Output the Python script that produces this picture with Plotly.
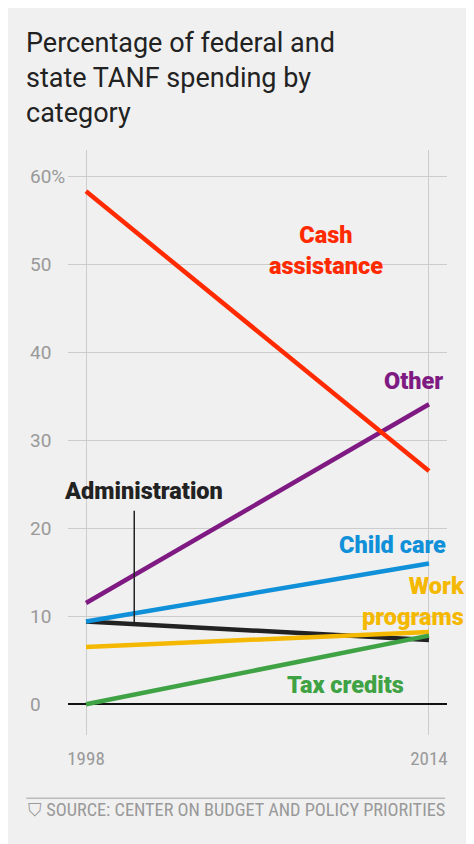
import plotly.graph_objects as go

years = [1998, 2014]
cash = [58.3, 26.5]
other = [11.5, 34.1]
child_care = [9.4, 16.0]
admin = [9.4, 7.3]
work = [6.5, 8.2]
tax = [0.0, 7.8]

series = [
    ("Administration", admin, "#222222"),
    ("Work programs", work, "#f5b800"),
    ("Tax credits", tax, "#3fa244"),
    ("Child care", child_care, "#0f90d8"),
    ("Other", other, "#7e1a82"),
    ("Cash assistance", cash, "#ff2a00"),
]

ytick_vals = [0, 10, 20, 30, 40, 50, 60]
ytick_text = ["0", "10", "20", "30", "40", "50", "60%"]

fig = go.Figure()
for name, vals, color in series:
    fig.add_trace(go.Scatter(x=years, y=vals, mode="lines", name=name,
                             line=dict(color=color, width=4.5)))

labels = [
    ("Cash<br>assistance", 2009.2, 51.6, "#ff2a00", "center"),
    ("Other", 2013.3, 36.7, "#7e1a82", "center"),
    ("Child care", 2012.3, 18.1, "#0f90d8", "center"),
    ("Work<br>programs", 2013.3, 11.7, "#f5b800", "right"),
    ("Tax credits", 2010.1, 2.2, "#3fa244", "center"),
    ("Administration", 2000.7, 24.2, "#222222", "center"),
]
for text, x, y, color, al in labels:
    fig.add_annotation(x=x, y=y, text=text, showarrow=False, align=al,
                       font=dict(family="Roboto", size=23.5, color=color, weight=900))

# leader line for Administration
fig.add_shape(type="line", x0=2000.25, x1=2000.25, y0=22.0, y1=9.2,
              line=dict(color="#222222", width=1.5))

for v, t in zip(ytick_vals, ytick_text):
    fig.add_annotation(xref="paper", x=-0.105, y=v, yref="y", text=t, showarrow=False,
                       xanchor="left", font=dict(family="Roboto", size=19, color="#999999"))

fig.add_annotation(xref="paper", yref="paper", x=-0.115, y=1.213, xanchor="left", yanchor="top",
                   text="Percentage of federal and<br>state TANF spending by<br>category",
                   showarrow=False, align="left",
                   font=dict(family="Roboto", size=27, color="#222222"))
fig.add_shape(type="line", xref="paper", yref="paper", x0=-0.11, x1=0.995, y0=-0.108, y1=-0.108,
              line=dict(color="#bbbbbb", width=1.5))
fig.add_annotation(xref="paper", yref="paper", x=-0.11, y=-0.148, xanchor="left",
                   text="⛉ SOURCE: CENTER ON BUDGET AND POLICY PRIORITIES",
                   showarrow=False, font=dict(family="Roboto Condensed, Roboto", size=18.3, color="#999999"))

fig.update_layout(
    width=474, height=844,
    margin=dict(l=60, r=35, t=142, b=117),
    paper_bgcolor="#f0f0f0", plot_bgcolor="#f0f0f0",
    showlegend=False,
)
fig.update_xaxes(range=[1997.16, 2014.84], tickvals=years, showgrid=True, gridcolor="#cccccc",
                 zeroline=False, showline=False, ticks="", ticklabelstandoff=10,
                 tickfont=dict(family="Roboto Condensed, Roboto", size=19, color="#999999"))
fig.update_yaxes(range=[-3.5, 63], tickvals=ytick_vals, showticklabels=False, showgrid=True,
                 gridcolor="#cccccc", zeroline=True, zerolinecolor="#111111", zerolinewidth=1.5,
                 showline=False)
fig.write_html("out.html")
